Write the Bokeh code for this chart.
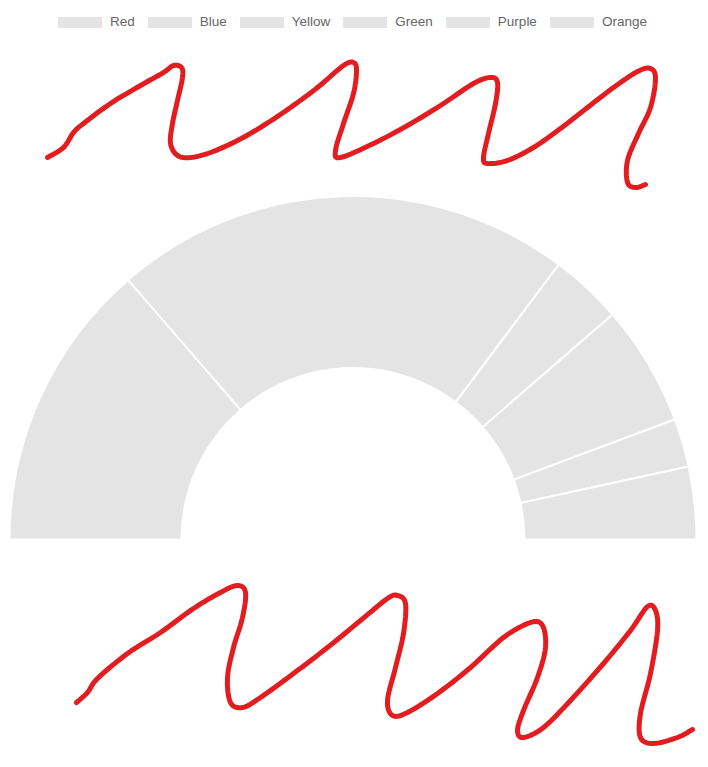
import numpy as np
from bokeh.plotting import figure
from bokeh.models import Range1d, Legend, LegendItem, ColumnDataSource
from bokeh.embed import file_html
from bokeh.resources import INLINE

# ---- data ----
labels = ["Red", "Blue", "Yellow", "Green", "Purple", "Orange"]
values = [12, 19, 3, 5, 2, 3]

# ---- hand-drawn red annotation strokes (screen pixel coordinates) ----
stroke_top_x = [47, 63, 73, 83, 110, 140, 163, 173, 181, 182, 177, 172, 170, 177, 190, 210, 237, 263, 290, 317, 343, 353,
                356, 353, 343, 335, 340, 373, 407, 440, 473, 490, 497, 495, 488, 483, 487, 507, 533, 560, 587, 613, 637,
                650, 655, 650, 638, 627, 627, 635, 645]
stroke_top_y = [157, 147, 132, 123, 103, 85, 72, 65, 67, 77, 100, 123, 143, 155, 157, 152, 140, 125, 107, 87, 65, 62,
                70, 93, 123, 150, 157, 143, 125, 105, 83, 77, 82, 103, 133, 157, 163, 160, 147, 128, 107, 87, 71,
                68, 78, 107, 133, 160, 182, 187, 184]
stroke_bot_x = [76, 87, 97, 127, 160, 193, 220, 237, 245, 242, 233, 227, 230, 242, 260, 293, 327, 360, 387, 397, 405,
                403, 395, 387, 392, 407, 437, 470, 503, 530, 542, 545, 537, 523, 517, 523, 543, 570, 603, 630, 647,
                655, 657, 650, 640, 640, 653, 677, 692]
stroke_bot_y = [702, 692, 678, 653, 632, 608, 592, 585, 592, 617, 647, 677, 702, 707, 697, 673, 647, 620, 598, 595, 603,
                633, 667, 700, 715, 712, 693, 667, 637, 622, 625, 647, 677, 710, 730, 737, 727, 700, 663, 630, 606,
                610, 630, 673, 713, 737, 743, 737, 729]

PAGE_W, PAGE_H = 708, 767
W, H = 708, 767
slice_color = "#e4e4e4"
text_color = "#666666"
red = "#e31c1f"


def smooth(xs, ys, n=8):
    pts = np.column_stack([xs, ys]).astype(float)
    pts = np.vstack([pts[0], pts, pts[-1]])
    out = []
    for i in range(1, len(pts) - 2):
        p0, p1, p2, p3 = pts[i - 1], pts[i], pts[i + 1], pts[i + 2]
        for t in np.linspace(0, 1, n, endpoint=False):
            t2, t3 = t * t, t * t * t
            out.append(0.5 * ((2 * p1) + (-p0 + p2) * t + (2 * p0 - 5 * p1 + 4 * p2 - p3) * t2
                              + (-p0 + 3 * p1 - 3 * p2 + p3) * t3))
    out.append(pts[-2])
    out = np.array(out)
    return out[:, 0], out[:, 1]


p = figure(width=W, height=H, output_backend="svg", toolbar_location=None,
           x_range=Range1d(0, W), y_range=Range1d(PAGE_H - H, PAGE_H),
           min_border=0, outline_line_color=None)
p.axis.visible = False
p.grid.visible = False
p.background_fill_color = "white"
p.border_fill_color = "white"

# half doughnut
cx, cy = 352.5, PAGE_H - 539
r_out, r_in = 343.5, 171.5
total = float(sum(values))
cum = np.concatenate([[0.0], np.cumsum(values)]) / total
start = np.pi - cum[:-1] * np.pi
end = np.pi - cum[1:] * np.pi
src = ColumnDataSource(dict(label=labels, start=start, end=end))
p.annular_wedge(x=cx, y=cy, inner_radius=r_in, outer_radius=r_out,
                start_angle="start", end_angle="end", direction="clock",
                fill_color=slice_color, line_color="white", line_width=2, source=src)

# legend swatches (no visible data)
items = []
for lab in labels:
    r = p.rect(x=[np.nan], y=[np.nan], width=1, height=1, fill_color=slice_color, line_color=None)
    items.append(LegendItem(label=lab, renderers=[r]))

legend = Legend(items=items, orientation="horizontal", location=(52, PAGE_H - 29),
                glyph_width=55, glyph_height=14, label_height=14, label_standoff=3, spacing=7,
                label_text_font="Liberation Sans", label_text_font_size="13.5px",
                label_text_color=text_color, padding=0, margin=0,
                border_line_color=None, background_fill_alpha=0)
p.add_layout(legend, "center")

# red annotation strokes
for xs, ys in ((stroke_top_x, stroke_top_y), (stroke_bot_x, stroke_bot_y)):
    sx, sy = smooth(xs, ys)
    p.line(sx, PAGE_H - sy, line_color=red, line_width=5, line_cap="round", line_join="round")

open("out.html", "w").write(file_html(p, INLINE))
